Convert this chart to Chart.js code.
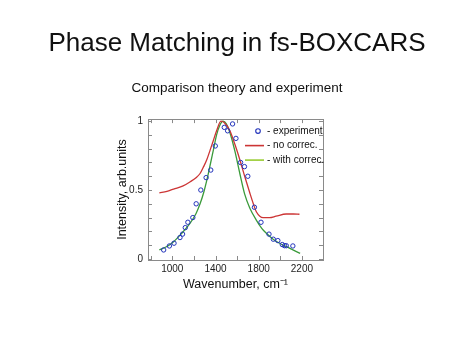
<!DOCTYPE html>
<html><head><meta charset="utf-8">
<script src="https://cdn.jsdelivr.net/npm/chart.js@4.4.0/dist/chart.umd.min.js"></script>
<style>html,body{margin:0;padding:0;background:#fff}#wrap{width:474px;height:355px;position:relative}</style>
</head><body><div id="wrap"><canvas id="c"></canvas></div>
<script>
const titleText = 'Phase Matching in fs-BOXCARS';
const subtitleText = 'Comparison theory and experiment';
const xTitle = 'Wavenumber, cm\u207B\u00B9';
const yTitle = 'Intensity, arb.units';
const seriesLabels = ['- experiment', '- no correc.', '- with correc.'];

const xTickValues = [800, 1000, 1200, 1400, 1600, 1800, 2000, 2200];
const xTickLabels = [1000, 1400, 1800, 2200];
const yTickValues = [0, 0.1, 0.2, 0.3, 0.4, 0.5, 0.6, 0.7, 0.8, 0.9, 1];
const yTickLabels = [0, 0.5, 1];

const expX = [920, 973, 1016, 1071, 1095, 1120, 1144, 1190, 1221, 1264, 1313, 1356, 1398, 1481, 1512, 1558, 1589, 1632, 1668, 1699, 1760, 1821, 1895, 1935, 1977, 2018, 2039, 2055, 2116];
const expY = [0.065, 0.094, 0.114, 0.155, 0.18, 0.227, 0.266, 0.30, 0.40, 0.50, 0.59, 0.645, 0.82, 0.955, 0.93, 0.98, 0.875, 0.70, 0.67, 0.60, 0.375, 0.266, 0.18, 0.143, 0.133, 0.104, 0.096, 0.096, 0.094];

const noCorrX = [880, 950, 1012, 1100, 1165, 1220, 1257, 1290, 1319, 1350, 1380, 1410, 1450, 1480, 1533, 1580, 1625, 1670, 1717, 1750, 1779, 1810, 1840, 1900, 1960, 2054, 2120, 2177];
const noCorrY = [0.48, 0.49, 0.507, 0.53, 0.56, 0.59, 0.62, 0.67, 0.72, 0.79, 0.86, 0.93, 1.0, 0.99, 0.93, 0.83, 0.72, 0.60, 0.48, 0.40, 0.34, 0.31, 0.30, 0.30, 0.31, 0.326, 0.326, 0.324];

const withCorrX = [880, 950, 1012, 1080, 1165, 1220, 1257, 1290, 1319, 1350, 1380, 1410, 1440, 1470, 1500, 1540, 1580, 1625, 1670, 1717, 1779, 1830, 1871, 1930, 1993, 2080, 2183];
const withCorrY = [0.065, 0.09, 0.125, 0.18, 0.26, 0.33, 0.40, 0.48, 0.57, 0.68, 0.79, 0.90, 0.97, 1.0, 0.98, 0.90, 0.78, 0.62, 0.47, 0.37, 0.28, 0.22, 0.186, 0.145, 0.114, 0.08, 0.04];

const pts = (xs, ys) => xs.map((x, i) => ({x: x, y: ys[i]}));
const FONT = "'Liberation Sans', Arial, Helvetica, sans-serif";

const framePlugin = {
  id: 'frame',
  afterDraw(chart) {
    const ctx = chart.ctx, a = chart.chartArea;
    const xs = chart.scales.x, ys = chart.scales.y;
    const tl = 4;
    ctx.save();
    ctx.strokeStyle = '#8a8a8a';
    ctx.lineWidth = 1;
    ctx.strokeRect(Math.round(a.left) + 0.5, Math.round(a.top) + 0.5, Math.round(a.right - a.left), Math.round(a.bottom - a.top));
    ctx.beginPath();
    xs.ticks.forEach(t => {
      const p = Math.round(xs.getPixelForValue(t.value)) + 0.5;
      ctx.moveTo(p, a.bottom); ctx.lineTo(p, a.bottom - tl);
      ctx.moveTo(p, a.top); ctx.lineTo(p, a.top + tl);
    });
    ys.ticks.forEach(t => {
      const p = Math.round(ys.getPixelForValue(t.value)) + 0.5;
      ctx.moveTo(a.left, p); ctx.lineTo(a.left + tl, p);
      ctx.moveTo(a.right, p); ctx.lineTo(a.right - tl, p);
    });
    ctx.stroke();
    ctx.restore();
  }
};

const legendPlugin = {
  id: 'inlegend',
  afterDraw(chart, args, opts) {
    const ctx = chart.ctx, a = chart.chartArea;
    ctx.save();
    ctx.font = '10px ' + FONT;
    ctx.textBaseline = 'middle';
    ctx.fillStyle = '#111';
    chart.data.datasets.forEach((ds, i) => {
      const y = a.top + opts.rowTop + i * opts.rowGap;
      const col = opts.colors[i];
      if (ds.showLine === false) {
        ctx.beginPath();
        ctx.strokeStyle = col; ctx.lineWidth = 1.1;
        ctx.arc(a.right - opts.markerOffset, y, 2.3, 0, Math.PI * 2);
        ctx.stroke();
      } else {
        ctx.beginPath();
        ctx.strokeStyle = col; ctx.lineWidth = 1.6;
        ctx.moveTo(a.right - opts.lineStart, y); ctx.lineTo(a.right - opts.lineEnd, y);
        ctx.stroke();
      }
      ctx.fillText(ds.label, a.right - opts.textOffset, y);
    });
    ctx.restore();
  }
};

new Chart(document.getElementById('c'), {
  type: 'scatter',
  data: {
    datasets: [
      {label: seriesLabels[0], data: pts(expX, expY), showLine: false, pointRadius: 2.2, pointBorderWidth: 1, borderColor: '#2233bb', backgroundColor: 'rgba(0,0,0,0)', pointBackgroundColor: 'rgba(0,0,0,0)'},
      {label: seriesLabels[1], data: pts(noCorrX, noCorrY), showLine: true, pointRadius: 0, borderColor: '#cc3535', borderWidth: 1.3, cubicInterpolationMode: 'monotone'},
      {label: seriesLabels[2], data: pts(withCorrX, withCorrY), showLine: true, pointRadius: 0, borderColor: '#3a9a3a', borderWidth: 1.3, cubicInterpolationMode: 'monotone'}
    ]
  },
  options: {
    responsive: true, maintainAspectRatio: false, animation: false,
    layout: {padding: {left: 0, right: 0, top: 0, bottom: 63}},
    plugins: {
      legend: {display: false},
      tooltip: {enabled: false},
      title: {display: true, text: titleText, color: '#111', font: {family: FONT, size: 26, weight: 'normal'}, padding: {top: 28.4, bottom: 0}},
      subtitle: {display: true, text: subtitleText, color: '#111', font: {family: FONT, size: 13.5, weight: 'normal'}, padding: {top: 20.3, bottom: 23}},
      inlegend: {rowTop: 12, rowGap: 14.5, markerOffset: 65, lineStart: 78, lineEnd: 59, textOffset: 56, colors: ['#2233bb', '#cc3535', '#99cc33']}
    },
    scales: {
      x: {
        type: 'linear', min: 775, max: 2395,
        grid: {display: false, drawTicks: false}, border: {display: false},
        afterBuildTicks: s => { s.ticks = xTickValues.map(v => ({value: v})); },
        afterFit: s => { s.height = 32; },
        ticks: {autoSkip: false, maxRotation: 0, padding: 3, color: '#222', font: {family: FONT, size: 10},
          callback: v => xTickLabels.includes(v) ? String(v) : ''},
        title: {display: true, text: xTitle, color: '#111', font: {family: FONT, size: 12.5}, padding: 0}
      },
      y: {
        type: 'linear', position: 'left', min: -0.008, max: 1.015,
        grid: {display: false, drawTicks: false}, border: {display: false},
        afterBuildTicks: s => { s.ticks = yTickValues.map(v => ({value: v})); },
        afterFit: s => { s.width = 148; },
        ticks: {autoSkip: false, padding: 5, color: '#222', font: {family: FONT, size: 10},
          callback: v => yTickLabels.includes(v) ? String(v) : ''},
        title: {display: true, text: yTitle, color: '#111', font: {family: FONT, size: 12.5}, padding: {top: 115.5, bottom: 0}}
      },
      yRight: {
        type: 'linear', position: 'right', display: true,
        grid: {display: false, drawTicks: false}, border: {display: false},
        ticks: {display: false},
        afterFit: s => { s.width = 151; }
      }
    }
  },
  plugins: [framePlugin, legendPlugin]
});
</script></body></html>
